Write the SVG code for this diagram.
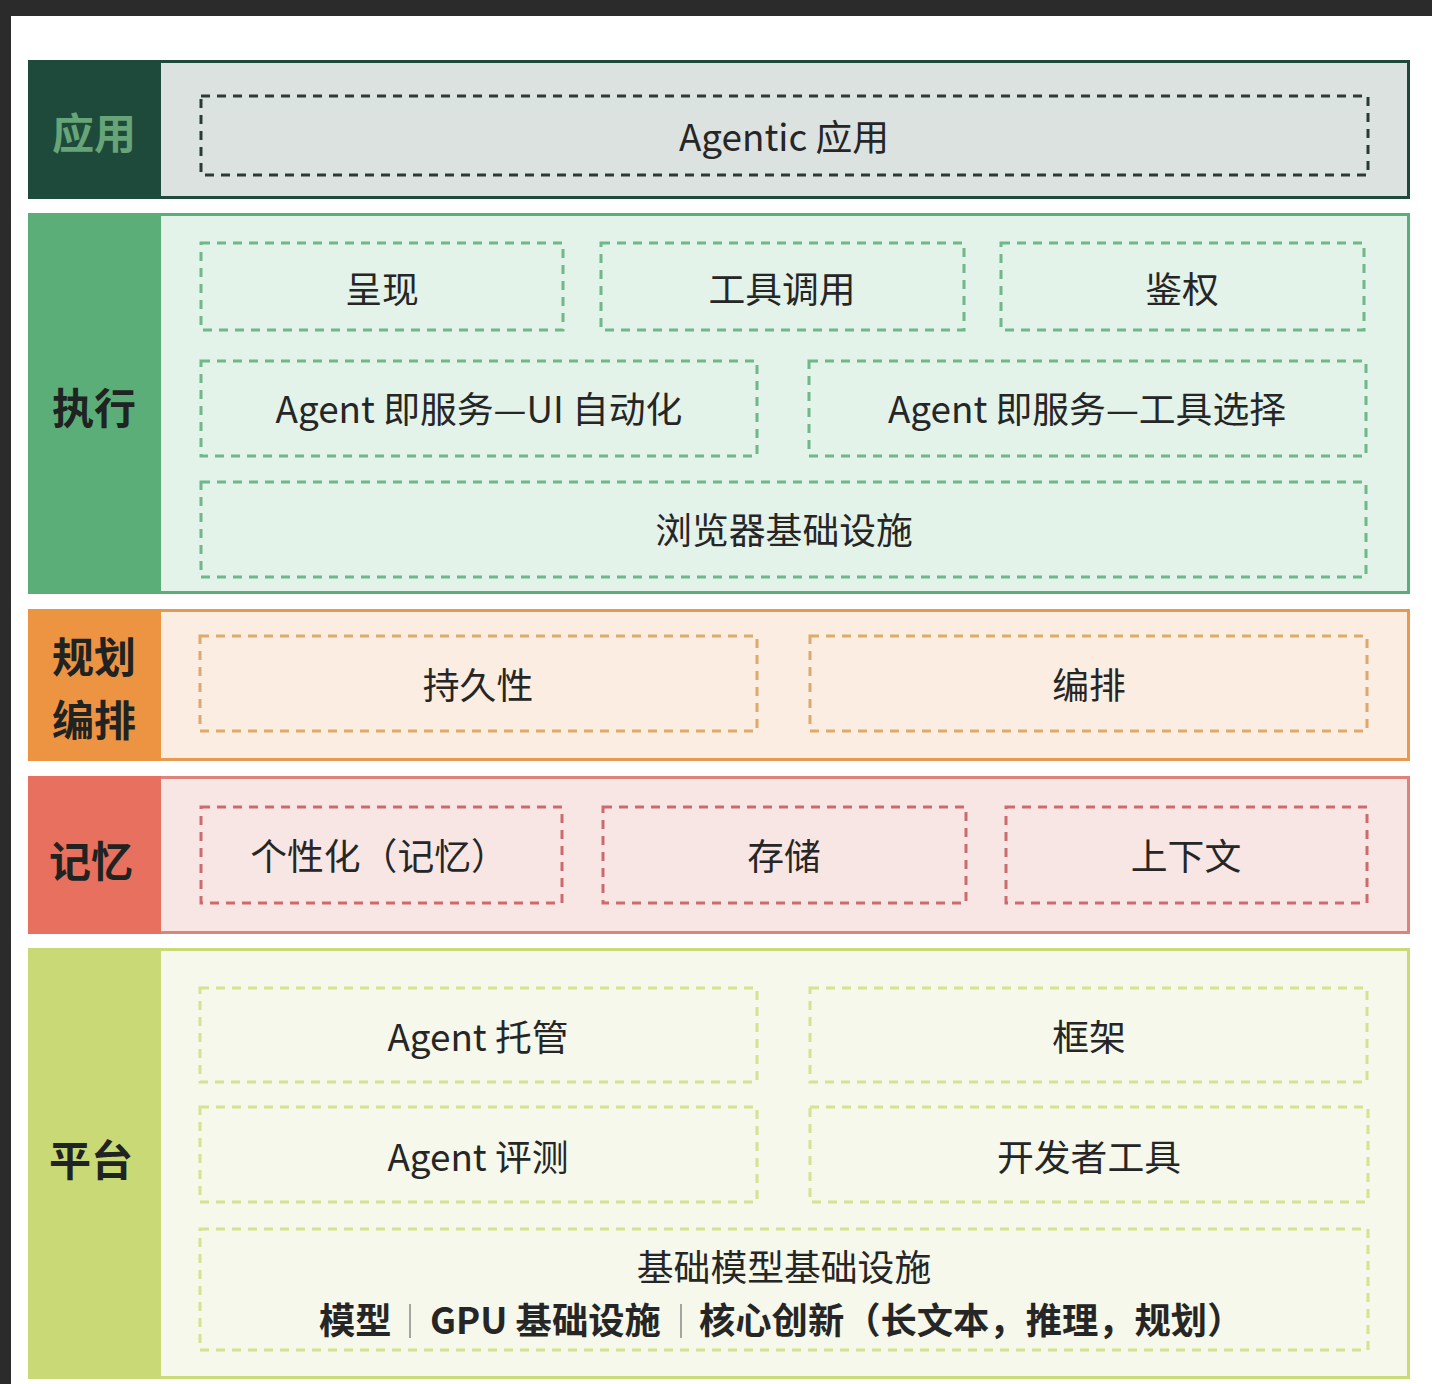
<svg xmlns="http://www.w3.org/2000/svg" width="1432" height="1384" viewBox="0 0 1432 1384">
<style>
text{font-family:"Noto Sans CJK SC","Noto Sans",sans-serif;text-anchor:middle;dominant-baseline:central}
.lbl{font-size:42px;font-weight:700;fill:#1f2322}
.t{font-size:36.8px;fill:#262626}
.b{font-size:36.3px;font-weight:700;fill:#262626;text-anchor:start}
.d{fill:none;stroke-width:3;stroke-dasharray:9 7}
</style>
<rect x="0" y="0" width="1432" height="1384" fill="#2b2b2b"/>
<rect x="11" y="16" width="1421" height="1368" fill="#ffffff"/>

<g id="layer-app">
<rect x="29.5" y="61.5" width="1379" height="136" fill="#dce2e0" stroke="#1e4a3c" stroke-width="3"/>
<rect x="28" y="60" width="133" height="139" fill="#1e4a3c"/>
<text class="lbl" x="94" y="130" style="fill:#67a477">应用</text>
<rect class="d" x="201" y="96" width="1167" height="79" stroke="#2c3a36"/>
<text class="t" x="784" y="135">Agentic 应用</text>
</g>

<g id="layer-exec">
<rect x="29.5" y="214.5" width="1379" height="378" fill="#e3f3ea" stroke="#5bae78" stroke-width="3"/>
<rect x="28" y="213" width="133" height="381" fill="#5bae78"/>
<text class="lbl" x="94" y="405">执行</text>
<g id="n-render"><rect class="d" x="201" y="243" width="362" height="87" stroke="#6fb88a"/><text class="t" x="382" y="287">呈现</text></g>
<g id="n-tool"><rect class="d" x="601" y="243" width="363" height="87" stroke="#6fb88a"/><text class="t" x="782" y="287">工具调用</text></g>
<g id="n-auth"><rect class="d" x="1001" y="243" width="363" height="87" stroke="#6fb88a"/><text class="t" x="1182" y="287">鉴权</text></g>
<g id="n-ui"><rect class="d" x="201" y="361" width="556" height="95" stroke="#6fb88a"/><text class="t" x="479" y="407">Agent 即服务—UI 自动化</text></g>
<g id="n-toolsel"><rect class="d" x="809" y="361" width="557" height="95" stroke="#6fb88a"/><text class="t" x="1087" y="407">Agent 即服务—工具选择</text></g>
<g id="n-browser"><rect class="d" x="201" y="482" width="1165" height="95" stroke="#6fb88a"/><text class="t" x="784" y="528">浏览器基础设施</text></g>
</g>

<g id="layer-plan">
<rect x="29.5" y="610.5" width="1379" height="149" fill="#fbede1" stroke="#e8994f" stroke-width="3"/>
<rect x="28" y="609" width="133" height="152" fill="#ed9443"/>
<text class="lbl" x="94" y="654">规划</text>
<text class="lbl" x="94" y="717">编排</text>
<g id="n-persist"><rect class="d" x="200" y="636" width="557" height="95" stroke="#deaa6c"/><text class="t" x="478" y="683">持久性</text></g>
<g id="n-orch"><rect class="d" x="810" y="636" width="557" height="95" stroke="#deaa6c"/><text class="t" x="1089" y="683">编排</text></g>
</g>

<g id="layer-memory">
<rect x="29.5" y="777.5" width="1379" height="155" fill="#f8e6e4" stroke="#dd837a" stroke-width="3"/>
<rect x="28" y="776" width="133" height="158" fill="#e8705f"/>
<text class="lbl" x="91" y="858">记忆</text>
<g id="n-personal"><rect class="d" x="201" y="807" width="361" height="96" stroke="#cd6a6d"/><text class="t" x="379" y="854">个性化（记忆）</text></g>
<g id="n-storage"><rect class="d" x="603" y="807" width="363" height="96" stroke="#cd6a6d"/><text class="t" x="784" y="854">存储</text></g>
<g id="n-context"><rect class="d" x="1006" y="807" width="361" height="96" stroke="#cd6a6d"/><text class="t" x="1186" y="854">上下文</text></g>
</g>

<g id="layer-platform">
<rect x="29.5" y="949.5" width="1379" height="428" fill="#f5f8ea" stroke="#c9da78" stroke-width="3"/>
<rect x="28" y="948" width="133" height="431" fill="#c8d975"/>
<text class="lbl" x="91" y="1157">平台</text>
<g id="n-host"><rect class="d" x="200" y="988" width="557" height="94" stroke="#d6e192"/><text class="t" x="478" y="1035">Agent 托管</text></g>
<g id="n-framework"><rect class="d" x="810" y="988" width="557" height="94" stroke="#d6e192"/><text class="t" x="1089" y="1035">框架</text></g>
<g id="n-eval"><rect class="d" x="200" y="1107" width="557" height="95" stroke="#d6e192"/><text class="t" x="478" y="1155">Agent 评测</text></g>
<g id="n-devtools"><rect class="d" x="810" y="1107" width="558" height="95" stroke="#d6e192"/><text class="t" x="1089" y="1155">开发者工具</text></g>
<g id="n-foundation"><rect class="d" x="200" y="1229" width="1168" height="121" stroke="#d6e192"/>
<text class="t" x="784" y="1265">基础模型基础设施</text>
<text class="b" x="319" y="1318">模型</text>
<line x1="410" y1="1304" x2="410" y2="1338" stroke="#888" stroke-width="1.5"/>
<text class="b" x="430" y="1318">GPU 基础设施</text>
<line x1="681" y1="1304" x2="681" y2="1338" stroke="#888" stroke-width="1.5"/>
<text class="b" x="699" y="1318">核心创新（长文本，推理，规划）</text>
</g>
</g>
<g id="connectors"/>
</svg>
